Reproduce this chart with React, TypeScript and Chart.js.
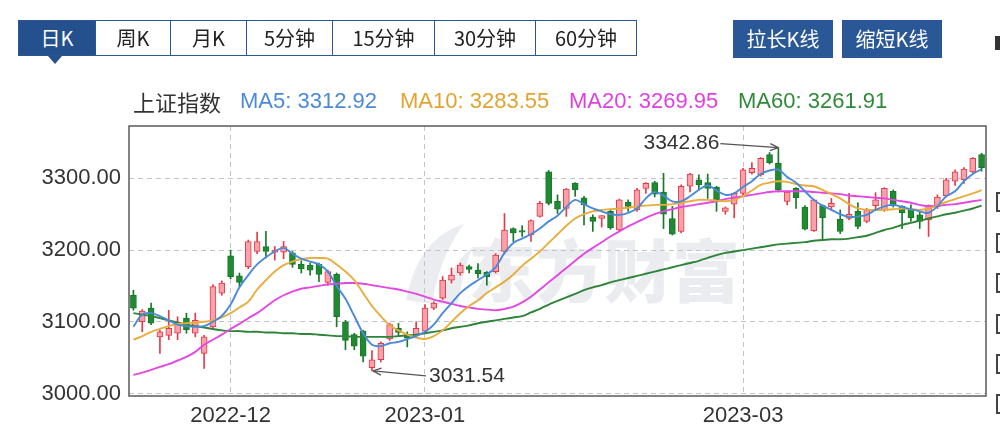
import React, { useEffect, useRef } from "react";
import { Chart, registerables } from "chart.js";
Chart.register(...registerables);

const dates: string[] = [
  "2022-11-16","2022-11-17","2022-11-18","2022-11-21","2022-11-22","2022-11-23","2022-11-24","2022-11-25","2022-11-28","2022-11-29","2022-11-30",
  "2022-12-01","2022-12-02","2022-12-05","2022-12-06","2022-12-07","2022-12-08","2022-12-09","2022-12-12","2022-12-13","2022-12-14","2022-12-15","2022-12-16",
  "2022-12-19","2022-12-20","2022-12-21","2022-12-22","2022-12-23","2022-12-26","2022-12-27","2022-12-28","2022-12-29","2022-12-30",
  "2023-01-03","2023-01-04","2023-01-05","2023-01-06","2023-01-09","2023-01-10","2023-01-11","2023-01-12","2023-01-13","2023-01-16","2023-01-17","2023-01-18","2023-01-19","2023-01-20","2023-01-30","2023-01-31",
  "2023-02-01","2023-02-02","2023-02-03","2023-02-06","2023-02-07","2023-02-08","2023-02-09","2023-02-10","2023-02-13","2023-02-14","2023-02-15","2023-02-16","2023-02-17","2023-02-20","2023-02-21","2023-02-22","2023-02-23","2023-02-24","2023-02-27","2023-02-28",
  "2023-03-01","2023-03-02","2023-03-03","2023-03-06","2023-03-07","2023-03-08","2023-03-09","2023-03-10","2023-03-13","2023-03-14","2023-03-15","2023-03-16","2023-03-17","2023-03-20","2023-03-21","2023-03-22","2023-03-23","2023-03-24","2023-03-27","2023-03-28","2023-03-29","2023-03-30","2023-03-31",
  "2023-04-03","2023-04-04","2023-04-06","2023-04-07","2023-04-10",
];

const opens: number[] = [
  3137,3100,3119,3079,3081,3084,3105,3084,3056,3093,3140,3192,3164,3177,3198,3205,3197,3197,3196,3180,
  3179,3180,3155,3166,3100,3082,3087,3036,3047,3076,3091,3082,3082,3087,3119,3133,3158,3168,3177,3172,
  3169,3170,3198,3230,3227,3221,3247,3309,3268,3258,3293,3273,3246,3244,3254,3228,3267,3256,3286,3294,
  3281,3244,3226,3289,3298,3294,3288,3254,3264,3279,3308,3305,3333,3321,3268,3286,3260,3227,3262,3260,
  3243,3244,3254,3240,3262,3256,3282,3261,3257,3249,3242,3260,3276,3296,3298,3309,3333,
];
const highs: number[] = [
  3144,3117,3126,3088,3116,3107,3112,3112,3081,3152,3157,3200,3168,3214,3225,3226,3205,3212,3198,3185,
  3182,3182,3172,3168,3102,3084,3088,3060,3072,3098,3098,3086,3100,3124,3128,3163,3175,3182,3179,3181,
  3170,3195,3251,3231,3234,3242,3268,3311,3277,3286,3294,3275,3249,3248,3256,3271,3270,3286,3294,3296,
  3307,3261,3291,3307,3305,3306,3289,3260,3280,3314,3322,3329,3336,3342.86,3282,3287,3262,3271,3263,3272,
  3256,3279,3266,3258,3280,3287,3284,3262,3263,3254,3263,3277,3300,3312,3315,3329,3335,
];
const lows: number[] = [
  3116,3086,3096,3056,3075,3075,3084,3079,3035,3091,3137,3160,3149,3174,3195,3189,3186,3188,3176,3168,
  3165,3156,3151,3093,3061,3061,3044,3031.54,3044,3074,3080,3065,3079,3084,3117,3131,3154,3165,3168,3161,
  3151,3168,3195,3212,3219,3212,3246,3263,3251,3247,3275,3235,3226,3232,3229,3227,3254,3254,3279,3274,
  3230,3221,3224,3281,3284,3272,3254,3250,3245,3277,3306,3303,3320,3281,3263,3258,3228,3226,3214,3255,
  3223,3242,3230,3238,3256,3254,3260,3230,3240,3230,3219,3258,3274,3290,3293,3307,3310,
];
const closes: number[] = [
  3119,3115,3098,3086,3091,3098,3089,3102,3079,3149,3154,3163,3155,3212,3212,3198,3200,3205,3180,3174,
  3172,3166,3170,3107,3074,3066,3052,3047,3070,3096,3085,3077,3091,3119,3126,3158,3165,3179,3173,3167,
  3163,3193,3228,3224,3225,3241,3265,3265,3257,3285,3284,3263,3240,3248,3231,3270,3261,3284,3293,3278,
  3250,3222,3289,3306,3291,3286,3268,3259,3279,3312,3314,3328,3322,3284,3281,3273,3229,3270,3245,3265,
  3226,3250,3233,3256,3270,3286,3262,3252,3245,3240,3262,3274,3298,3309,3313,3328,3315,
];

const ma5: number[] = [
  3093,3110,3112,3108,3102,3096,3094,3093,3094,3100,3108,3124,3148,3165,3180,3190,3198,3203,3195,3188,
  3184,3180,3170,3150,3132,3108,3084,3068,3066,3070,3072,3076,3080,3086,3096,3112,3126,3140,3150,3158,
  3166,3176,3196,3210,3216,3222,3230,3240,3248,3260,3270,3264,3258,3254,3250,3249,3252,3258,3272,3281,
  3276,3268,3268,3275,3284,3290,3283,3277,3279,3288,3296,3306,3311,3312,3302,3294,3282,3270,3262,3256,
  3250,3246,3247,3249,3256,3261,3263,3260,3257,3254,3252,3261,3275,3282,3296,3306,3312.92,
];
const ma10: number[] = [
  3075,3080,3086,3090,3094,3097,3098,3099,3100,3102,3106,3112,3120,3128,3145,3158,3170,3179,3184,3187,
  3189,3189,3188,3180,3170,3158,3140,3122,3108,3095,3088,3082,3078,3076,3080,3088,3100,3112,3122,3130,
  3140,3148,3156,3166,3178,3188,3198,3210,3222,3234,3244,3250,3254,3256,3257,3258,3259,3261,3262,3263,
  3263,3264,3266,3268,3270,3270,3269,3268,3270,3275,3283,3291,3294,3296,3295,3292,3290,3289,3284,3278,
  3272,3264,3258,3256,3256,3256,3257,3258,3257,3256,3258,3262,3267,3271,3275,3279,3283.55,
];
const ma20: number[] = [
  3026,3029,3033,3037,3041,3046,3051,3058,3068,3075,3082,3090,3097,3105,3112,3121,3130,3137,3142,3146,
  3148,3150,3152,3153,3154,3154,3153,3151,3149,3147,3145,3142,3139,3135,3131,3128,3125,3122,3120,3118,
  3117,3116,3118,3121,3127,3135,3145,3155,3165,3175,3185,3195,3203,3211,3219,3226,3233,3239,3245,3250,
  3254,3257,3260,3262,3264,3266,3268,3271,3273,3275,3277,3279,3281,3282,3282,3282,3282,3281,3280,3279,
  3278,3276,3275,3274,3273,3272,3270,3268,3266,3263,3261,3262,3263,3264,3266,3268,3269.95,
];
const ma60: number[] = [
  3112,3110,3108,3105,3102,3099,3096,3094,3092,3090,3088,3087,3087,3086,3086,3085,3085,3084,3084,3083,
  3083,3082,3081,3080,3080,3079,3079,3079,3079,3079,3080,3081,3082,3084,3086,3088,3091,3093,3095,3098,
  3100,3102,3104,3106,3108,3113,3118,3124,3129,3134,3139,3144,3148,3151,3155,3158,3161,3164,3167,3170,
  3173,3176,3179,3182,3185,3189,3193,3196,3198,3200,3202,3204,3206,3208,3209,3210,3211,3213,3214,3215,
  3215,3216,3218,3220,3224,3228,3231,3235,3238,3241,3244,3247,3250,3252,3255,3258,3261.91,
];

const yTicks: number[] = [3000, 3100, 3200, 3300];
const xTickDates: string[] = ["2022-12-01", "2023-01-03", "2023-03-01"];
const xTickLabels: string[] = ["2022-12", "2023-01", "2023-03"];

const tabs: string[] = ["日K", "周K", "月K", "5分钟", "15分钟", "30分钟", "60分钟"];
const tabWidths: number[] = [78, 75, 76, 86, 102, 101, 101];
const buttons: string[] = ["拉长K线", "缩短K线"];
const legendItems: { text: string; color: string; left: number }[] = [
  { text: "上证指数", color: "#333", left: 133 },
  { text: "MA5: 3312.92", color: "#4a8ad8", left: 240 },
  { text: "MA10: 3283.55", color: "#e3a32e", left: 400 },
  { text: "MA20: 3269.95", color: "#e040e0", left: 569 },
  { text: "MA60: 3261.91", color: "#2f8a3a", left: 738 },
];

const LEFT = 129, RIGHT = 986, TOP = 126, BOTTOM = 396;
const UP_FILL = "#f7a1aa", UP_LINE = "#e23b48", DN_FILL = "#1f8a30", DN_LINE = "#17782a";
const FONT = "'Liberation Sans', Arial, sans-serif";

export default function App() {
  const ref = useRef<HTMLCanvasElement | null>(null);
  useEffect(() => {
    const canvas = ref.current!;
    const up = closes.map((c, i) => c >= opens[i]);
    const hiVal = Math.max(...highs);
    const hiIdx = highs.indexOf(hiVal);
    const loVal = Math.min(...lows);
    const loIdx = lows.indexOf(loVal);

    const arrow = (ctx: CanvasRenderingContext2D, x1: number, y1: number, x2: number, y2: number) => {
      ctx.beginPath();
      ctx.moveTo(x1, y1);
      ctx.lineTo(x2, y2);
      ctx.stroke();
      const a = Math.atan2(y2 - y1, x2 - x1);
      const L = 9;
      ctx.beginPath();
      ctx.moveTo(x2, y2);
      ctx.lineTo(x2 - L * Math.cos(a - 0.4), y2 - L * Math.sin(a - 0.4));
      ctx.moveTo(x2, y2);
      ctx.lineTo(x2 - L * Math.cos(a + 0.4), y2 - L * Math.sin(a + 0.4));
      ctx.stroke();
    };

    const deco = {
      id: "deco",
      beforeDatasetsDraw(chart: any) {
        const ctx = chart.ctx as CanvasRenderingContext2D;
        ctx.save();
        ctx.fillStyle = "rgba(190,196,208,0.32)";
        ctx.beginPath();
        ctx.moveTo(406, 300);
        ctx.quadraticCurveTo(418, 238, 464, 224);
        ctx.quadraticCurveTo(440, 255, 432, 304);
        ctx.closePath();
        ctx.fill();
        ctx.beginPath();
        ctx.moveTo(438, 304);
        ctx.quadraticCurveTo(452, 262, 472, 248);
        ctx.quadraticCurveTo(462, 275, 458, 304);
        ctx.closePath();
        ctx.fill();
        ctx.font = `900 68px 'Noto Sans CJK SC', sans-serif`;
        ctx.textBaseline = "middle";
        ctx.textAlign = "left";
        ctx.fillText("东方财富", 468, 271);
        ctx.restore();
      },
      afterDraw(chart: any) {
        const ctx = chart.ctx as CanvasRenderingContext2D;
        const { left, top, right, bottom } = chart.chartArea;
        const xs = chart.scales.x, ys = chart.scales.y;
        ctx.save();
        ctx.strokeStyle = "#5a5a5a";
        ctx.lineWidth = 1.5;
        ctx.strokeRect(left, top, right - left, bottom - top);
        ctx.strokeStyle = "#555";
        ctx.lineWidth = 1.3;
        ctx.fillStyle = "#333";
        ctx.font = `21px ${FONT}`;
        ctx.textBaseline = "middle";
        const hx = xs.getPixelForValue(hiIdx), hy = ys.getPixelForValue(hiVal);
        arrow(ctx, hx - 58, hy - 4, hx, hy);
        ctx.textAlign = "right";
        ctx.fillText(hiVal.toFixed(2), hx - 59, hy - 4);
        const lx = xs.getPixelForValue(loIdx), ly = ys.getPixelForValue(loVal);
        arrow(ctx, lx + 54, ly + 5, lx + 1, ly);
        ctx.textAlign = "left";
        ctx.fillText(loVal.toFixed(2), lx + 57, ly + 5);
        ctx.restore();
      },
    };

    const tickIdx = xTickDates.map((d) => dates.indexOf(d));

    const chart = new Chart(canvas, {
      type: "bar",
      data: {
        labels: dates,
        datasets: [
          { type: "line", label: "MA5", data: ma5, borderColor: "#4a8ad8", borderWidth: 1.9, pointRadius: 0, tension: 0.35, order: 0 } as any,
          { type: "line", label: "MA10", data: ma10, borderColor: "#e8ad3c", borderWidth: 1.9, pointRadius: 0, tension: 0.35, order: 0 } as any,
          { type: "line", label: "MA20", data: ma20, borderColor: "#e248e2", borderWidth: 1.9, pointRadius: 0, tension: 0.35, order: 0 } as any,
          { type: "line", label: "MA60", data: ma60, borderColor: "#2e8438", borderWidth: 1.9, pointRadius: 0, tension: 0.35, order: 0 } as any,
          {
            label: "body",
            data: opens.map((o, i) => [o, closes[i]]),
            backgroundColor: up.map((u) => (u ? UP_FILL : DN_FILL)),
            borderColor: up.map((u) => (u ? UP_LINE : DN_LINE)),
            borderWidth: 1,
            borderSkipped: false,
            barThickness: 6,
            grouped: false,
            order: 1,
          } as any,
          {
            label: "wick",
            data: lows.map((l, i) => [l, highs[i]]),
            backgroundColor: up.map((u) => (u ? UP_LINE : DN_LINE)),
            borderWidth: 0,
            barThickness: 1,
            grouped: false,
            order: 2,
          } as any,
        ],
      },
      options: {
        animation: false,
        responsive: false,
        devicePixelRatio: 1,
        layout: { padding: { left: 0, top: TOP, right: 1000 - RIGHT, bottom: 0 } },
        plugins: { legend: { display: false }, tooltip: { enabled: false } },
        scales: {
          x: {
            type: "category",
            offset: true,
            grid: { offset: false, color: "#c4c4c4", drawTicks: false, borderDash: [5, 4] } as any,
            border: { display: false, dash: [5, 4] },
            afterBuildTicks: (s: any) => {
              s.ticks = tickIdx.map((v) => ({ value: v }));
            },
            afterFit: (s: any) => {
              s.height = 436 - BOTTOM;
            },
            ticks: {
              autoSkip: false,
              maxRotation: 0,
              padding: 7,
              color: "#333",
              font: { size: 22, family: FONT },
              callback: (_v: any, i: number) => xTickLabels[i],
            },
          },
          y: {
            min: 2996.5,
            max: 3373,
            grid: { color: "#c4c4c4", drawTicks: false, borderDash: [5, 4] } as any,
            border: { display: false, dash: [5, 4] },
            afterBuildTicks: (s: any) => {
              s.ticks = yTicks.map((v) => ({ value: v }));
            },
            afterFit: (s: any) => {
              s.width = LEFT;
            },
            ticks: {
              padding: 8,
              color: "#333",
              font: { size: 22, family: FONT },
              callback: (v: any) => Number(v).toFixed(2),
            },
          },
        },
      } as any,
      plugins: [deco],
    });
    return () => chart.destroy();
  }, []);

  let acc = 18;
  const tabLefts = tabWidths.map((w) => {
    const l = acc;
    acc += w;
    return l;
  });

  return (
    <div
      style={{
        position: "absolute",
        left: 0,
        top: 0,
        width: 1000,
        height: 436,
        background: "#fff",
        overflow: "hidden",
        fontFamily: "'Noto Sans CJK SC', sans-serif",
      }}
    >
      <canvas ref={ref} width={1000} height={436} style={{ position: "absolute", left: 0, top: 0, width: 1000, height: 436 }} />
      {tabs.map((t, i) => (
        <div
          key={t}
          style={{
            position: "absolute",
            left: tabLefts[i],
            top: 20,
            width: tabWidths[i],
            height: 36,
            boxSizing: "border-box",
            border: "1px solid #2b5594",
            borderLeft: i === 0 ? "1px solid #2b5594" : "none",
            background: i === 0 ? "#24508e" : "#fff",
            color: i === 0 ? "#fff" : "#222",
            fontSize: 20,
            lineHeight: "34px",
            textAlign: "center",
          }}
        >
          {t}
        </div>
      ))}
      <div
        style={{
          position: "absolute",
          left: 48,
          top: 56,
          width: 0,
          height: 0,
          borderLeft: "7px solid transparent",
          borderRight: "7px solid transparent",
          borderTop: "8px solid #24508e",
        }}
      />
      {buttons.map((b, i) => (
        <div
          key={b}
          style={{
            position: "absolute",
            left: 733 + i * 109,
            top: 20,
            width: 100,
            height: 38,
            background: "#2a5796",
            color: "#fff",
            fontSize: 20,
            lineHeight: "38px",
            textAlign: "center",
          }}
        >
          {b}
        </div>
      ))}
      {legendItems.map((it) => (
        <div
          key={it.text}
          style={{
            position: "absolute",
            left: it.left,
            top: 88,
            color: it.color,
            fontSize: 22,
            lineHeight: "26px",
            whiteSpace: "nowrap",
            fontFamily: it.left === 133 ? "'Noto Sans CJK SC', sans-serif" : FONT,
          }}
        >
          {it.text}
        </div>
      ))}
      <div style={{ position: "absolute", left: 995, top: 36, width: 8, height: 14, background: "#333" }} />
      {[192, 233, 273, 314, 354, 394].map((t) => (
        <div
          key={t}
          style={{
            position: "absolute",
            left: 996,
            top: t,
            width: 10,
            height: 20,
            boxSizing: "border-box",
            border: "2px solid #444",
            borderRight: "none",
          }}
        />
      ))}
    </div>
  );
}
